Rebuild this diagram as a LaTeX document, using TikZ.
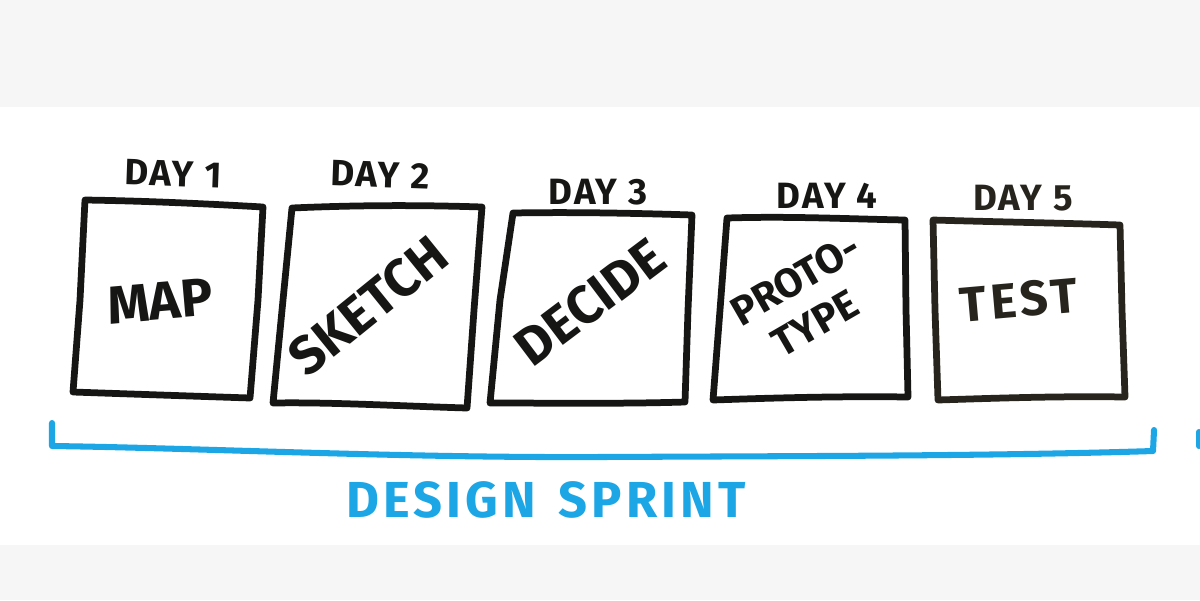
\documentclass[tikz,border=0pt]{standalone}
\usepackage{fontspec}
\setmainfont{Fira Sans}
\definecolor{ink}{RGB}{22,22,20}
\definecolor{ink5}{RGB}{38,36,28}
\definecolor{marker}{RGB}{28,166,230}
\definecolor{paper}{RGB}{246,246,246}
\tikzset{
  sketchbox/.style={draw=ink, line width=4.8pt, line join=round, line cap=round},
  daylbl/.style={text=ink, font=\bfseries\fontsize{26}{26}\selectfont\addfontfeatures{LetterSpace=6}, inner sep=0pt},
  bigl/.style={text=ink, font=\bfseries\fontsize{38}{38}\selectfont, inner sep=0pt},
  bluepen/.style={draw=marker, line width=4.3pt, line cap=round, line join=round},
}
\begin{document}
\begin{tikzpicture}[x=0.025cm, y=-0.025cm]
\useasboundingbox (0,0) rectangle (1200,600);
% paper background
\fill[paper] (0,0) rectangle (1200,600);
\fill[white] (0,107) rectangle (1200,545);

% boxes
\draw[sketchbox] (85,200) .. controls (150,201) and (210,204) .. (263,207)
  -- (258,300) -- (250,398) .. controls (190,396) and (130,394) .. (73,392) -- (80,300) -- cycle;
\draw[sketchbox] (292,208) .. controls (360,205) and (420,205) .. (482,207)
  -- (474,310) -- (467,408) .. controls (400,406) and (330,402) .. (273,403) -- (283,300) -- cycle;
\draw[sketchbox] (513,213) .. controls (570,212) and (630,213) .. (692,215)
  -- (688,310) -- (685,402) .. controls (620,404) and (550,403) .. (490,403) -- (500,300) -- cycle;
\draw[sketchbox] (727,218) .. controls (790,216) and (850,219) .. (905,220)
  -- (906,310) -- (908,397) .. controls (840,396) and (770,398) .. (713,400) -- (720,310) -- cycle;
\draw[sketchbox, draw=ink5] (933,220) .. controls (1000,222) and (1060,223) .. (1120,225)
  -- (1122,310) -- (1125,397) .. controls (1060,396) and (1000,398) .. (938,400) -- (935,310) -- cycle;

% day labels
\node[daylbl, rotate=-2] (d1) at (173,174) {DAY 1};
\node[daylbl, rotate=-2] (d2) at (380,175) {DAY 2};
\node[daylbl] (d3) at (598,192) {DAY 3};
\node[daylbl] (d4) at (827,196) {DAY 4};
\node[daylbl, text=ink5] (d5) at (1023,198) {DAY 5};

% box labels
\node[bigl, rotate=5] (map) at (160,301) {MAP};
\node[bigl, rotate=39] (sketch) at (368,306) {SKETCH};
\node[bigl, rotate=37] (decide) at (590,302) {DECIDE};
\node[bigl, rotate=30, align=left, font=\bfseries\fontsize{29}{34}\selectfont] (proto) at (807,300) {PROTO-\\\hspace*{0.5em}TYPE};
\node[bigl, rotate=5, text=ink5, font=\bfseries\fontsize{35}{35}\selectfont\addfontfeatures{LetterSpace=8}] (test) at (1019,300) {TEST};

% blue bracket
\draw[bluepen] (52,423) -- (52,446) .. controls (200,448) and (400,458) .. (600,457)
  .. controls (800,456) and (1000,456) .. (1153,451) -- (1154,430);
\draw[bluepen] (1199,432) -- (1199,446);
\node[text=marker, font=\bfseries\fontsize{36}{36}\selectfont\addfontfeatures{LetterSpace=8}, inner sep=0pt] (ds) at (546,500) {DESIGN\hspace{0.45em}SPRINT};
\end{tikzpicture}
\end{document}
